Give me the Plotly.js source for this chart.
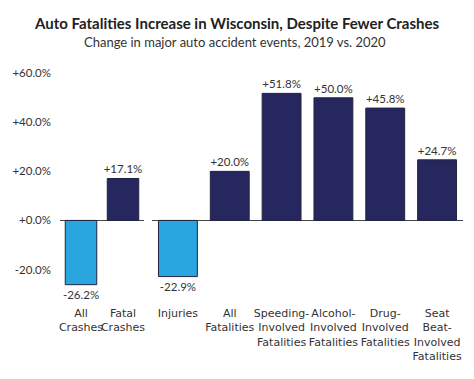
<!DOCTYPE html>
<html>
<head>
<meta charset="utf-8">
<script src="https://cdn.plot.ly/plotly-3.0.1.min.js"></script>
<style>html,body{margin:0;padding:0;background:#fff;}#chart{width:474px;height:379px;}</style>
</head>
<body>
<div id="chart"></div>
<script>
// Panel 1: crashes
var crashCategories = ['All<br>Crashes', 'Fatal<br>Crashes'];
var crashValues = [-26.2, 17.1];
// Panel 2: injuries & fatalities
var harmCategories = ['Injuries', 'All<br>Fatalities', 'Speeding-<br>Involved<br>Fatalities', 'Alcohol-<br>Involved<br>Fatalities', 'Drug-<br>Involved<br>Fatalities', 'Seat<br>Beat-<br>Involved<br>Fatalities'];
var harmValues = [-22.9, 20.0, 51.8, 50.0, 45.8, 24.7];
// Y tick labels
var yTickVals = [-20, 0, 20, 40, 60];
var yTickText = ['-20.0%', '+0.0%', '+20.0%', '+40.0%', '+60.0%'];

var NAVY = '#26275F', LIGHT = '#29A6DF', EDGE = '#23243f';
function fmt(v){ return (v >= 0 ? '+' : '') + v.toFixed(1) + '%'; }
function colors(vals){ return vals.map(function(v){ return v < 0 ? LIGHT : NAVY; }); }

var labelFont = {family: 'Lato, "Open Sans", sans-serif', size: 11.5, color: '#333'};

var traces = [
  {type: 'bar', x: crashCategories, y: crashValues, xaxis: 'x', yaxis: 'y',
   marker: {color: colors(crashValues), line: {color: EDGE, width: 1}},
   text: crashValues.map(fmt), textposition: 'outside', cliponaxis: false, constraintext: 'none',
   textfont: labelFont, hoverinfo: 'skip'},
  {type: 'bar', x: harmCategories, y: harmValues, xaxis: 'x2', yaxis: 'y2',
   marker: {color: colors(harmValues), line: {color: EDGE, width: 1}},
   text: harmValues.map(fmt), textposition: 'outside', cliponaxis: false, constraintext: 'none',
   textfont: labelFont, hoverinfo: 'skip'}
];

var yr = [-30, 65];
var tickFontX = {family: 'DejaVu Sans, Verdana, sans-serif', size: 11, color: '#333'};
var layout = {
  width: 474, height: 379,
  margin: {l: 0, r: 0, t: 60.5, b: 84.5},
  paper_bgcolor: '#fff', plot_bgcolor: '#fff',
  showlegend: false, bargap: 0.25,
  xaxis: {domain: [60/474, 144/474], showgrid: false, showline: false, ticks: '', tickangle: 0,
          ticklabelstandoff: 11, tickfont: tickFontX, fixedrange: true},
  xaxis2: {domain: [152/474, 463/474], anchor: 'y2', showgrid: false, showline: false, ticks: '', tickangle: 0,
           ticklabelstandoff: 11, tickfont: tickFontX, fixedrange: true},
  yaxis: {range: yr, showgrid: false, zeroline: true, zerolinecolor: '#444', zerolinewidth: 1,
          tickvals: yTickVals, ticktext: yTickText, ticks: '', ticklabelstandoff: 8,
          tickfont: {family: 'Lato, "Open Sans", sans-serif', size: 11.5, color: '#333'}, fixedrange: true},
  yaxis2: {range: yr, anchor: 'x2', showgrid: false, zeroline: true, zerolinecolor: '#444', zerolinewidth: 1,
           showticklabels: false, ticks: '', fixedrange: true},
  annotations: [
    {text: '<b>Auto Fatalities Increase in Wisconsin, Despite Fewer Crashes</b>', xref: 'paper', yref: 'paper',
     x: 237/474, y: 1 + (60.5 - 22) / 234, xanchor: 'center', yanchor: 'middle', showarrow: false,
     font: {family: 'Lato, sans-serif', size: 15, color: '#222'}},
    {text: 'Change in major auto accident events, 2019 vs. 2020', xref: 'paper', yref: 'paper',
     x: 235/474, y: 1 + (60.5 - 41) / 234, xanchor: 'center', yanchor: 'middle', showarrow: false,
     font: {family: 'Lato, sans-serif', size: 13, color: '#333'}}
  ]
};

Plotly.newPlot('chart', traces, layout, {displayModeBar: false, staticPlot: true});
</script>
</body>
</html>
